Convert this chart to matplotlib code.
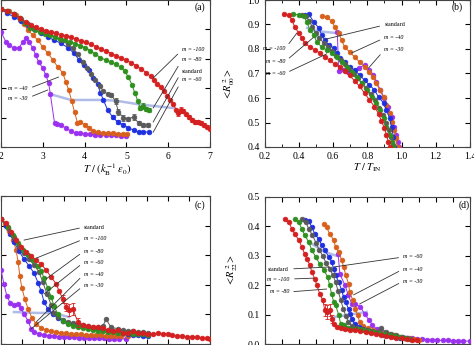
import matplotlib
matplotlib.use("Agg")
import matplotlib.pyplot as plt
from matplotlib.ticker import MultipleLocator, FormatStrFormatter

plt.rcParams.update({
    "font.family": "serif",
    "font.serif": ["Liberation Serif", "DejaVu Serif"],
    "mathtext.fontset": "stix",
    "xtick.direction": "in",
    "ytick.direction": "in",
    "xtick.top": True,
    "ytick.right": True,
    "xtick.labelsize": 7,
    "ytick.labelsize": 7,
    "xtick.major.size": 3.5,
    "ytick.major.size": 3.5,
    "xtick.minor.size": 2,
    "ytick.minor.size": 2,
    "axes.linewidth": 0.8,
    "axes.edgecolor": "#444444",
})

RED = "#d42020"
GREEN = "#2f8f1f"
GRAY = "#5a5a5a"
BLUE = "#1f30e0"
ORANGE = "#d8601c"
PURPLE = "#9a30f0"
LIGHT = "#b0bce8"

# ---------------- panel (a): <R^2_00> vs T ----------------
red_a_T = [2.00, 2.15, 2.30, 2.45, 2.60, 2.72, 2.84, 2.96, 3.08, 3.20, 3.32, 3.44, 3.56, 3.68, 3.80,
           3.92, 4.04, 4.16, 4.28, 4.40, 4.52, 4.64, 4.76, 4.88, 5.00, 5.12, 5.24, 5.36, 5.48, 5.58,
           5.66, 5.74, 5.82, 5.90, 5.98, 6.05, 6.12, 6.19, 6.24, 6.30, 6.36, 6.43, 6.50, 6.57, 6.64,
           6.71, 6.78, 6.86, 6.93, 7.00]
red_a_y = [0.937, 0.928, 0.905, 0.875, 0.848, 0.828, 0.815, 0.803, 0.792, 0.782, 0.773, 0.764, 0.755,
           0.746, 0.732, 0.722, 0.711, 0.698, 0.683, 0.667, 0.652, 0.636, 0.620, 0.605, 0.590, 0.572,
           0.552, 0.530, 0.505, 0.480, 0.455, 0.430, 0.405, 0.380, 0.350, 0.320, 0.290, 0.255, 0.228,
           0.252, 0.245, 0.222, 0.205, 0.185, 0.170, 0.172, 0.165, 0.150, 0.138, 0.125]
red_a_err = [0.015, 0.02, 0.015, 0.012, 0.012, 0.015, 0.012, 0.015, 0.012, 0.012, 0.012, 0.01]

green_a_T = [2.00, 2.15, 2.30, 2.45, 2.58, 2.70, 2.82, 2.94, 3.06, 3.18, 3.30, 3.42, 3.54, 3.66, 3.78,
             3.90, 4.02, 4.14, 4.26, 4.38, 4.50, 4.62, 4.74, 4.86, 4.96, 5.05, 5.13, 5.20, 5.27, 5.33,
             5.40, 5.47, 5.53]
green_a_y = [0.937, 0.928, 0.908, 0.878, 0.845, 0.812, 0.797, 0.784, 0.772, 0.760, 0.749, 0.738, 0.727,
             0.716, 0.703, 0.690, 0.676, 0.655, 0.632, 0.608, 0.592, 0.578, 0.562, 0.545, 0.515, 0.475,
             0.425, 0.370, 0.315, 0.265, 0.278, 0.258, 0.250]
green_a_err = [0.015, 0.02, 0.015, 0.012]

gray_a_T = [2.00, 2.16, 2.32, 2.48, 2.64, 2.80, 2.96, 3.12, 3.28, 3.44, 3.60, 3.72, 3.84, 3.96, 4.06,
            4.16, 4.26, 4.36, 4.45, 4.55, 4.64, 4.74, 4.81, 4.93, 5.05, 5.17, 5.29, 5.40, 5.52]
gray_a_y = [0.937, 0.928, 0.905, 0.872, 0.840, 0.812, 0.790, 0.768, 0.748, 0.727, 0.700, 0.672, 0.630,
            0.580, 0.535, 0.500, 0.455, 0.415, 0.380, 0.360, 0.355, 0.310, 0.240, 0.197, 0.190, 0.205,
            0.163, 0.150, 0.148]
gray_a_err = [0.015, 0.02, 0.02, 0.02, 0.015, 0.02, 0.015, 0.012, 0.012]

blue_a_T = [2.00, 2.15, 2.31, 2.48, 2.64, 2.79, 2.95, 3.12, 3.26, 3.43, 3.60, 3.74, 3.86, 3.98, 4.10,
            4.21, 4.31, 4.38, 4.45, 4.55, 4.67, 4.79, 4.93, 5.05, 5.17, 5.29, 5.40, 5.55]
blue_a_y = [0.937, 0.910, 0.884, 0.857, 0.830, 0.803, 0.776, 0.748, 0.728, 0.707, 0.675, 0.640, 0.595,
            0.558, 0.524, 0.472, 0.430, 0.367, 0.320, 0.252, 0.204, 0.170, 0.150, 0.129, 0.116, 0.102,
            0.102, 0.102]
blue_a_err = [0.015, 0.012, 0.01, 0.01, 0.008, 0.008, 0.008, 0.008]

orange_a_T = [2.00, 2.19, 2.36, 2.45, 2.55, 2.64, 2.76, 2.88, 3.00, 3.12, 3.24, 3.36, 3.48, 3.55, 3.62,
              3.69, 3.76, 3.83, 3.90, 4.00, 4.10, 4.21, 4.33, 4.45, 4.57, 4.69, 4.81, 4.93, 5.02]
orange_a_y = [0.937, 0.925, 0.898, 0.865, 0.835, 0.796, 0.762, 0.728, 0.680, 0.639, 0.592, 0.544, 0.503,
              0.442, 0.388, 0.313, 0.238, 0.163, 0.170, 0.150, 0.130, 0.109, 0.102, 0.095, 0.095, 0.092,
              0.088, 0.088, 0.088]
orange_a_err = [0.01, 0.01, 0.01, 0.008, 0.008, 0.008, 0.008, 0.008, 0.008, 0.008]

purple_a_T = [2.00, 2.12, 2.19, 2.31, 2.43, 2.52, 2.60, 2.67, 2.76, 2.83, 2.90, 3.00, 3.07, 3.14, 3.18,
              3.28, 3.33, 3.43, 3.55, 3.67, 3.79, 3.90, 4.02, 4.14, 4.26, 4.38, 4.50, 4.62, 4.74, 4.86,
              5.00]
purple_a_y = [0.782, 0.714, 0.694, 0.673, 0.673, 0.714, 0.741, 0.714, 0.673, 0.626, 0.578, 0.537, 0.490,
              0.435, 0.360, 0.165, 0.158, 0.150, 0.129, 0.109, 0.095, 0.095, 0.088, 0.088, 0.082, 0.082,
              0.082, 0.082, 0.082, 0.078, 0.075]

light_a_T = [3.18, 3.67, 4.40, 4.75, 5.30, 6.12]
light_a_y = [0.36, 0.32, 0.32, 0.315, 0.29, 0.265]

# ---------------- panel (b): <R^2_00> vs T/T_IN ----------------
red_b_x = [0.313, 0.342, 0.360, 0.377, 0.400, 0.418, 0.435, 0.465, 0.494, 0.523, 0.552, 0.580, 0.610,
           0.639, 0.668, 0.697, 0.726, 0.755, 0.784, 0.813, 0.842, 0.866, 0.883, 0.900, 0.912, 0.924, 0.930]
red_b_y = [0.943, 0.939, 0.918, 0.890, 0.865, 0.845, 0.824, 0.808, 0.796, 0.784, 0.767, 0.755, 0.738,
           0.725, 0.710, 0.692, 0.670, 0.648, 0.620, 0.592, 0.565, 0.535, 0.505, 0.478, 0.449, 0.420, 0.400]

green_b_x = [0.366, 0.400, 0.430, 0.447, 0.465, 0.488, 0.505, 0.534, 0.563, 0.592, 0.621, 0.650, 0.680,
             0.709, 0.738, 0.767, 0.796, 0.825, 0.854, 0.872, 0.895, 0.912, 0.930, 0.947, 0.953]
green_b_y = [0.943, 0.939, 0.935, 0.910, 0.878, 0.857, 0.829, 0.808, 0.796, 0.784, 0.767, 0.747, 0.727,
             0.706, 0.686, 0.661, 0.633, 0.604, 0.580, 0.551, 0.518, 0.482, 0.449, 0.420, 0.400]

gray_b_x = [0.42, 0.44, 0.46, 0.48, 0.50, 0.52, 0.545, 0.57, 0.595, 0.62, 0.645, 0.67, 0.695, 0.72,
            0.745, 0.77, 0.795, 0.82, 0.845, 0.87, 0.89, 0.91, 0.925, 0.94, 0.95]
gray_b_y = [0.94, 0.935, 0.915, 0.89, 0.865, 0.845, 0.825, 0.808, 0.79, 0.772, 0.755, 0.738, 0.72, 0.70,
            0.68, 0.66, 0.64, 0.615, 0.59, 0.56, 0.53, 0.50, 0.47, 0.44, 0.41]

blue_b_x = [0.435, 0.458, 0.488, 0.517, 0.534, 0.552, 0.575, 0.605, 0.621, 0.639, 0.668, 0.697, 0.726,
            0.755, 0.784, 0.813, 0.842, 0.866, 0.895, 0.912, 0.930, 0.942, 0.953, 0.959]
blue_b_y = [0.939, 0.943, 0.910, 0.886, 0.857, 0.837, 0.816, 0.804, 0.784, 0.763, 0.747, 0.727, 0.714,
            0.694, 0.673, 0.653, 0.633, 0.604, 0.580, 0.551, 0.518, 0.482, 0.441, 0.400]

orange_b_x = [0.534, 0.563, 0.592, 0.610, 0.633, 0.650, 0.668, 0.697, 0.726, 0.755, 0.784, 0.813, 0.836,
              0.854, 0.872, 0.895, 0.912, 0.930, 0.947, 0.959, 0.965, 0.977]
orange_b_y = [0.935, 0.930, 0.914, 0.890, 0.865, 0.837, 0.808, 0.788, 0.767, 0.747, 0.727, 0.706, 0.686,
              0.661, 0.633, 0.604, 0.571, 0.539, 0.502, 0.469, 0.437, 0.400]

purple_b_x = [0.625, 0.633, 0.662, 0.690, 0.720, 0.750, 0.784, 0.813, 0.836, 0.854, 0.877, 0.900, 0.924,
              0.942, 0.959, 0.970, 0.982, 0.988]
purple_b_y = [0.870, 0.710, 0.714, 0.705, 0.710, 0.722, 0.735, 0.714, 0.694, 0.665, 0.632, 0.600, 0.563,
              0.522, 0.482, 0.449, 0.420, 0.400]

light_b_x = [0.45, 0.49, 0.55, 0.62]
light_b_y = [0.886, 0.875, 0.870, 0.865]

# ---------------- panel (c): <R^2_22> vs T ----------------
red_c_T = [2.00, 2.12, 2.24, 2.36, 2.48, 2.60, 2.72, 2.84, 2.96, 3.08, 3.20, 3.32, 3.39, 3.48, 3.55,
           3.62, 3.72, 3.84, 3.96, 4.08, 4.20, 4.32, 4.44, 4.56, 4.68, 4.80, 4.92, 5.04, 5.16, 5.28,
           5.40, 5.52, 5.64, 5.76, 5.88, 6.00, 6.10, 6.22, 6.34, 6.46, 6.58, 6.70, 6.82, 6.94, 7.00]
red_c_y = [0.422, 0.409, 0.378, 0.351, 0.328, 0.311, 0.297, 0.284, 0.270, 0.250, 0.226, 0.203, 0.179,
           0.152, 0.125, 0.115, 0.118, 0.074, 0.064, 0.061, 0.057, 0.057, 0.054, 0.047, 0.044, 0.047,
           0.037, 0.037, 0.044, 0.037, 0.037, 0.034, 0.034, 0.037, 0.034, 0.034, 0.030, 0.027, 0.027,
           0.024, 0.024, 0.024, 0.020, 0.020, 0.017]
red_c_err = [0.012, 0.015, 0.02, 0.02, 0.015]

green_c_T = [2.00, 2.17, 2.29, 2.41, 2.53, 2.65, 2.77, 2.89, 2.96, 3.03, 3.12, 3.20, 3.27, 3.36, 3.48,
             3.60, 3.72, 3.84, 3.96, 4.08, 4.20, 4.32, 4.44, 4.56, 4.68, 4.80, 4.92, 5.04, 5.16, 5.28,
             5.40, 5.52]
green_c_y = [0.422, 0.395, 0.368, 0.341, 0.318, 0.301, 0.284, 0.264, 0.247, 0.223, 0.189, 0.159, 0.128,
             0.101, 0.078, 0.068, 0.061, 0.057, 0.054, 0.051, 0.047, 0.044, 0.044, 0.041, 0.041, 0.037,
             0.037, 0.037, 0.034, 0.034, 0.034, 0.030]

gray_c_T = [2.00, 2.17, 2.31, 2.43, 2.55, 2.67, 2.79, 2.91, 3.00, 3.10, 3.20, 3.27, 3.36, 3.48, 3.60,
            3.72, 3.84, 3.96, 4.08, 4.20, 4.32, 4.44, 4.51, 4.63, 4.80, 4.92, 5.04, 5.16, 5.28, 5.40, 5.52]
gray_c_y = [0.422, 0.392, 0.361, 0.331, 0.307, 0.287, 0.267, 0.243, 0.209, 0.169, 0.132, 0.105, 0.091,
            0.081, 0.074, 0.071, 0.068, 0.064, 0.061, 0.057, 0.057, 0.061, 0.084, 0.057, 0.051, 0.047,
            0.044, 0.044, 0.041, 0.041, 0.037]

blue_c_T = [2.00, 2.12, 2.22, 2.31, 2.43, 2.55, 2.67, 2.79, 2.89, 2.96, 3.03, 3.12, 3.24, 3.36, 3.48,
            3.60, 3.72, 3.84, 3.96, 4.08, 4.20, 4.32, 4.44, 4.56, 4.68, 4.80, 4.92, 5.04, 5.16, 5.28,
            5.40, 5.52]
blue_c_y = [0.422, 0.399, 0.372, 0.345, 0.314, 0.287, 0.264, 0.240, 0.206, 0.179, 0.142, 0.118, 0.101,
            0.088, 0.078, 0.071, 0.068, 0.061, 0.061, 0.057, 0.054, 0.051, 0.047, 0.044, 0.044, 0.041,
            0.037, 0.034, 0.030, 0.030, 0.027, 0.027]

orange_c_T = [2.00, 2.10, 2.19, 2.29, 2.36, 2.41, 2.45, 2.50, 2.57, 2.65, 2.74, 2.84, 2.96, 3.08, 3.20,
              3.32, 3.44, 3.56, 3.67, 3.79, 3.91, 4.03, 4.15, 4.27, 4.39, 4.51, 4.63, 4.75, 4.87, 5.04]
orange_c_y = [0.422, 0.405, 0.382, 0.351, 0.318, 0.277, 0.230, 0.189, 0.152, 0.118, 0.088, 0.068, 0.054,
              0.047, 0.044, 0.041, 0.037, 0.037, 0.034, 0.034, 0.034, 0.030, 0.030, 0.030, 0.030, 0.027,
              0.027, 0.027, 0.027, 0.027]

purple_c_T = [2.00, 2.07, 2.14, 2.22, 2.31, 2.41, 2.48, 2.55, 2.65, 2.72, 2.79, 2.91, 3.03, 3.15, 3.27,
              3.39, 3.51, 3.63, 3.75, 3.87, 3.99, 4.11, 4.22, 4.34, 4.46, 4.58, 4.70, 4.82, 4.99]
purple_c_y = [0.250, 0.203, 0.162, 0.139, 0.132, 0.135, 0.122, 0.101, 0.078, 0.051, 0.041, 0.034, 0.030,
              0.027, 0.027, 0.024, 0.024, 0.024, 0.024, 0.020, 0.020, 0.020, 0.020, 0.020, 0.020, 0.017,
              0.017, 0.017, 0.017]

light_c_T = [2.31, 2.84, 3.24, 3.63]
light_c_y = [0.108, 0.105, 0.105, 0.091]

# ---------------- panel (d): <R^2_22> vs T/T_IN ----------------
red_d_x = [0.319, 0.342, 0.360, 0.377, 0.400, 0.418, 0.435, 0.447, 0.465, 0.476, 0.494, 0.505, 0.523,
           0.540, 0.552, 0.563, 0.580, 0.592, 0.604, 0.621, 0.645, 0.670, 0.700, 0.730, 0.760, 0.790,
           0.820, 0.850, 0.880, 0.910, 0.940, 0.970, 1.000, 1.030, 1.060, 1.090]
red_d_y = [0.425, 0.415, 0.391, 0.374, 0.354, 0.330, 0.306, 0.289, 0.269, 0.245, 0.221, 0.201, 0.170,
           0.150, 0.116, 0.109, 0.116, 0.085, 0.068, 0.058, 0.053, 0.050, 0.048, 0.046, 0.044, 0.041,
           0.038, 0.035, 0.031, 0.028, 0.025, 0.022, 0.020, 0.018, 0.015, 0.013]
red_d_err = [0.02, 0.025, 0.02, 0.015]

green_d_x = [0.377, 0.400, 0.418, 0.435, 0.458, 0.476, 0.499, 0.523, 0.546, 0.569, 0.580, 0.592, 0.604,
             0.615, 0.633, 0.645, 0.662, 0.690, 0.720, 0.750, 0.780, 0.810, 0.840, 0.870, 0.900, 0.930,
             0.960, 0.990, 1.020, 1.050]
green_d_y = [0.425, 0.415, 0.391, 0.370, 0.347, 0.320, 0.296, 0.272, 0.252, 0.228, 0.201, 0.170, 0.143,
             0.133, 0.099, 0.068, 0.065, 0.056, 0.052, 0.050, 0.046, 0.043, 0.040, 0.036, 0.033, 0.030,
             0.027, 0.024, 0.020, 0.018]

gray_d_x = [0.418, 0.44, 0.46, 0.48, 0.50, 0.52, 0.54, 0.56, 0.58, 0.60, 0.615, 0.63, 0.645, 0.66,
            0.675, 0.69, 0.71, 0.74, 0.77, 0.80, 0.83, 0.86, 0.88, 0.91, 0.94, 0.97, 1.00, 1.03]
gray_d_y = [0.425, 0.415, 0.39, 0.37, 0.345, 0.32, 0.30, 0.275, 0.255, 0.235, 0.21, 0.18, 0.15, 0.12,
            0.095, 0.075, 0.06, 0.055, 0.05, 0.048, 0.045, 0.04, 0.055, 0.04, 0.035, 0.03, 0.025, 0.02]

blue_d_x = [0.435, 0.458, 0.476, 0.494, 0.517, 0.534, 0.552, 0.575, 0.592, 0.604, 0.615, 0.633, 0.650,
            0.662, 0.674, 0.691, 0.697, 0.709, 0.726, 0.750, 0.778, 0.810, 0.840, 0.870, 0.900, 0.930,
            0.960, 0.990, 1.020, 1.050]
blue_d_y = [0.422, 0.418, 0.398, 0.374, 0.357, 0.337, 0.320, 0.296, 0.279, 0.255, 0.235, 0.211, 0.184,
            0.160, 0.143, 0.119, 0.102, 0.085, 0.068, 0.058, 0.051, 0.045, 0.040, 0.036, 0.032, 0.028,
            0.025, 0.022, 0.019, 0.016]

orange_d_x = [0.546, 0.563, 0.580, 0.604, 0.615, 0.633, 0.650, 0.662, 0.674, 0.691, 0.697, 0.715, 0.726,
              0.744, 0.755, 0.778, 0.807, 0.836, 0.865, 0.895, 0.925, 0.955, 0.985, 1.015, 1.045, 1.075,
              1.105]
orange_d_y = [0.408, 0.398, 0.374, 0.354, 0.330, 0.313, 0.286, 0.262, 0.235, 0.204, 0.177, 0.150, 0.119,
              0.099, 0.075, 0.061, 0.054, 0.048, 0.042, 0.037, 0.033, 0.029, 0.025, 0.022, 0.019, 0.016,
              0.014]

purple_d_x = [0.63, 0.64, 0.67, 0.69, 0.71, 0.73, 0.76, 0.785, 0.81, 0.83, 0.855, 0.88, 0.91, 0.94,
              0.97, 1.00, 1.03, 1.06, 1.09, 1.12, 1.15, 1.18, 1.21, 1.24, 1.27, 1.30, 1.33, 1.36, 1.40]
purple_d_y = [0.305, 0.238, 0.200, 0.165, 0.136, 0.136, 0.126, 0.102, 0.082, 0.065, 0.051, 0.041, 0.035,
              0.030, 0.027, 0.024, 0.022, 0.020, 0.018, 0.017, 0.015, 0.014, 0.013, 0.012, 0.012, 0.011,
              0.011, 0.010, 0.010]

light_d1_x = [0.458, 0.552, 0.62]
light_d1_y = [0.347, 0.313, 0.300]
light_d2_x = [0.61, 0.70, 0.796]
light_d2_y = [0.092, 0.100, 0.109]


def curve(ax, x, y, color, err=None, start=None, ms=3.4):
    ax.plot(x, y, "-o", color=color, lw=0.7, ms=ms, mec=color, mew=0.5, zorder=3)
    if err:
        if start is None:
            start = len(x) - len(err)
        ax.errorbar(x[start:start + len(err)], y[start:start + len(err)], yerr=err,
                    fmt="none", ecolor=color, elinewidth=0.6, capsize=1.2, capthick=0.6, zorder=3)


def tag(ax, text, xy, xytext, left_of_text=True, italic=True):
    ax.annotate(text, xy=xy, xytext=xytext, fontsize=4.3,
                style="italic" if italic else "normal",
                ha="left" if left_of_text else "right", va="center",
                arrowprops=dict(arrowstyle="-", lw=0.6, color="#333333", shrinkA=1.5, shrinkB=0,
                                relpos=(0 if left_of_text else 1, 0.5)))


fig = plt.figure(figsize=(4.74, 3.45), dpi=100)
W, H = 474.0, 345.0
ax_a = fig.add_axes([1 / W, 1 - 147 / H, 209 / W, 147 / H])
ax_b = fig.add_axes([264.5 / W, 1 - 147 / H, 205.5 / W, 147 / H])
ax_c = fig.add_axes([1 / W, 1 / H, 209 / W, 148 / H])
ax_d = fig.add_axes([264.5 / W, 1 / H, 205.5 / W, 147 / H])

ylab00 = r"$<\!R^{\,2}_{00}\!>$"
ylab22 = r"$<\!R^{\,2}_{22}\!>$"

# (a)
ax = ax_a
ax.plot(light_a_T, light_a_y, color=LIGHT, lw=1.8, zorder=2)
curve(ax, purple_a_T, purple_a_y, PURPLE)
curve(ax, orange_a_T, orange_a_y, ORANGE, orange_a_err)
curve(ax, blue_a_T, blue_a_y, BLUE, blue_a_err)
curve(ax, gray_a_T, gray_a_y, GRAY, gray_a_err)
curve(ax, green_a_T, green_a_y, GREEN, green_a_err)
curve(ax, red_a_T, red_a_y, RED, red_a_err)
ax.set_xlim(2, 7)
ax.set_ylim(0, 1)
ax.xaxis.set_major_locator(MultipleLocator(1))
ax.yaxis.set_major_locator(MultipleLocator(0.2))
ax.tick_params(axis="y", labelleft=False)
ax.set_xlabel(r"$T\ /\ (k_{\rm B}^{-1}\ \epsilon_0)$", fontsize=7.5)
ax.xaxis.set_label_coords(0.507, -0.10)
tag(ax, "m = -100", (5.64, 0.469), (6.33, 0.66))
tag(ax, "m = -80", (5.64, 0.265), (6.33, 0.592))
tag(ax, "standard", (5.64, 0.17), (6.33, 0.517), italic=False)
tag(ax, "m = -60", (5.64, 0.10), (6.33, 0.456))
tag(ax, "m = -40", (3.38, 0.476), (2.64, 0.395), left_of_text=False)
tag(ax, "m = -30", (3.12, 0.388), (2.64, 0.333), left_of_text=False)
ax.text(0.952, 0.952, "(a)", transform=ax.transAxes, ha="center", va="center", fontsize=7)

# (b)
ax = ax_b
ax.plot(light_b_x, light_b_y, color=LIGHT, lw=1.8, zorder=2)
curve(ax, purple_b_x, purple_b_y, PURPLE)
curve(ax, orange_b_x, orange_b_y, ORANGE)
curve(ax, blue_b_x, blue_b_y, BLUE)
curve(ax, gray_b_x, gray_b_y, GRAY)
curve(ax, green_b_x, green_b_y, GREEN)
curve(ax, red_b_x, red_b_y, RED)
ax.set_xlim(0.2, 1.4)
ax.set_ylim(0.4, 1.0)
ax.xaxis.set_major_locator(MultipleLocator(0.2))
ax.xaxis.set_minor_locator(MultipleLocator(0.1))
ax.yaxis.set_major_locator(MultipleLocator(0.1))
ax.xaxis.set_major_formatter(FormatStrFormatter("%.1f"))
ax.yaxis.set_major_formatter(FormatStrFormatter("%.1f"))
ax.set_xlabel(r"$T\ /\ T_{\rm IN}$", fontsize=7.5)
ax.xaxis.set_label_coords(0.5, -0.10)
ax.set_ylabel(ylab00, fontsize=7.5)
ax.yaxis.set_label_coords(-0.135, 0.43)
tag(ax, "standard", (0.557, 0.84), (0.90, 0.898), italic=False)
tag(ax, "m = -40", (0.709, 0.784), (0.90, 0.845))
tag(ax, "m = -30", (0.807, 0.722), (0.90, 0.796))
tag(ax, "m = -100", (0.389, 0.865), (0.319, 0.80), left_of_text=False)
tag(ax, "m = -80", (0.485, 0.847), (0.319, 0.748), left_of_text=False)
tag(ax, "m = -60", (0.563, 0.78), (0.319, 0.70), left_of_text=False)
ax.text(0.937, 0.952, "(b)", transform=ax.transAxes, ha="center", va="center", fontsize=7)

# (c)
ax = ax_c
ax.plot(light_c_T, light_c_y, color=LIGHT, lw=1.8, zorder=2)
curve(ax, purple_c_T, purple_c_y, PURPLE)
curve(ax, orange_c_T, orange_c_y, ORANGE)
curve(ax, blue_c_T, blue_c_y, BLUE)
curve(ax, gray_c_T, gray_c_y, GRAY)
curve(ax, green_c_T, green_c_y, GREEN)
curve(ax, red_c_T, red_c_y, RED, red_c_err, start=13)
ax.set_xlim(2, 7)
ax.set_ylim(0, 0.5)
ax.xaxis.set_major_locator(MultipleLocator(0.5))
ax.yaxis.set_major_locator(MultipleLocator(0.1))
ax.tick_params(labelleft=False, labelbottom=False)
tag(ax, "standard", (2.55, 0.351), (3.99, 0.395), italic=False)
tag(ax, "m = -100", (2.84, 0.29), (3.99, 0.355))
tag(ax, "m = -80", (3.08, 0.22), (3.99, 0.314))
tag(ax, "m = -60", (3.03, 0.169), (3.99, 0.277))
tag(ax, "m = -40", (2.84, 0.074), (3.99, 0.236))
tag(ax, "m = -30", (2.72, 0.051), (3.99, 0.199))
ax.text(0.952, 0.94, "(c)", transform=ax.transAxes, ha="center", va="center", fontsize=7)

# (d)
ax = ax_d
ax.plot(light_d1_x, light_d1_y, color=LIGHT, lw=1.8, zorder=2)
ax.plot(light_d2_x, light_d2_y, color=LIGHT, lw=1.8, zorder=2)
curve(ax, purple_d_x, purple_d_y, PURPLE)
curve(ax, orange_d_x, orange_d_y, ORANGE)
curve(ax, blue_d_x, blue_d_y, BLUE)
curve(ax, gray_d_x, gray_d_y, GRAY)
curve(ax, green_d_x, green_d_y, GREEN)
curve(ax, red_d_x, red_d_y, RED, red_d_err, start=14)
ax.set_xlim(0.2, 1.4)
ax.set_ylim(0, 0.5)
ax.xaxis.set_major_locator(MultipleLocator(0.1))
ax.yaxis.set_major_locator(MultipleLocator(0.1))
ax.yaxis.set_major_formatter(FormatStrFormatter("%.1f"))
ax.tick_params(axis="x", labelbottom=False)
ax.set_ylabel(ylab22, fontsize=7.5)
ax.yaxis.set_label_coords(-0.12, 0.50)
tag(ax, "standard", (0.58, 0.262), (0.343, 0.255), left_of_text=False, italic=False)
tag(ax, "m = -100", (0.488, 0.224), (0.348, 0.221), left_of_text=False)
tag(ax, "m = -80", (0.563, 0.187), (0.343, 0.177), left_of_text=False)
tag(ax, "m = -60", (0.605, 0.262), (1.011, 0.296))
tag(ax, "m = -40", (0.72, 0.167), (1.011, 0.255))
tag(ax, "m = -30", (0.755, 0.136), (1.011, 0.214))
ax.text(0.971, 0.946, "(d)", transform=ax.transAxes, ha="center", va="center", fontsize=7)

fig.savefig("out.png", dpi=100)
